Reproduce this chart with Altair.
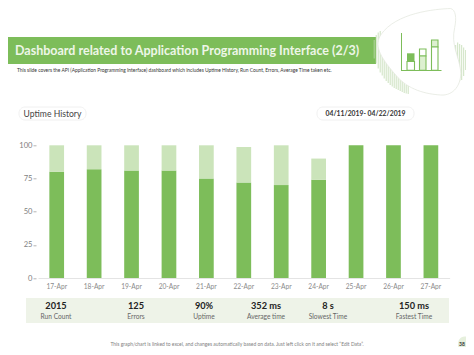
import altair as alt
import pandas as pd

days = ["17-Apr", "18-Apr", "19-Apr", "20-Apr", "21-Apr", "22-Apr", "23-Apr", "24-Apr", "25-Apr", "26-Apr", "27-Apr"]
uptime = [80, 82, 81, 81, 75, 72, 70, 74, 100, 100, 100]
rest = [20, 18, 19, 19, 25, 26.7, 30, 16, 0, 0, 0]
stat_values = ["2015", "125", "90%", "352 ms", "8 s", "150 ms"]
stat_labels = ["Run Count", "Errors", "Uptime", "Average time", "Slowest Time", "Fastest Time"]
stat_x = [56, 136, 204, 266, 328, 414]

GREEN = "#7DBD5A"
LIGHT = "#CBE4BA"
FONT = "Lato"

PL, PT, PW, PH = 38.0, 145.3, 411.6, 132.7
CW, CH = 458, 339


def X(v):
    return alt.value(v - PL)


def Y(v):
    return alt.value(v - PT)


one = alt.Data(values=[{}])


def box(x0, x1, y0, y1, fill, stroke=None, sw=1.0, radius=0):
    kw = {"fill": fill, "cornerRadius": radius}
    if stroke:
        kw.update(stroke=stroke, strokeWidth=sw)
    return alt.Chart(one).mark_rect(**kw).encode(x=X(x0), x2=X(x1), y=Y(y0), y2=Y(y1))


def label(txt, x, y, size, color, weight="normal", align="center"):
    return alt.Chart(one).mark_text(
        font=FONT, fontSize=size, color=color, fontWeight=weight, align=align, baseline="middle"
    ).encode(x=X(x), y=Y(y), text=alt.value(txt))


def shape(path, cx, cy, scale_px, fill=None, stroke=None, sw=1.0):
    kw = {"shape": path, "size": (2 * scale_px) ** 2, "filled": fill is not None, "opacity": 1}
    if fill:
        kw["fill"] = fill
    if stroke:
        kw.update(stroke=stroke, strokeWidth=sw)
    return alt.Chart(one).mark_point(**kw).encode(x=X(cx), y=Y(cy))


blob_path = ("M0.60 -0.83 C0.30 -0.82 -0.50 -0.75 -0.80 -0.30 C-0.92 -0.10 -0.85 0.10 -0.50 0.50 "
             "C-0.25 0.80 0.10 0.88 0.40 0.90 C0.65 0.92 0.82 0.70 0.80 0.42 "
             "C0.76 0.10 0.60 -0.10 0.68 -0.45 C0.72 -0.65 0.70 -0.80 0.60 -0.83 Z")
hatch_path = " ".join(
    f"M{x / 100:.2f} {a / 100:.2f} V{b / 100:.2f}"
    for x, a, b in [
        (-93, -20, 17), (-89, -30, 27), (-85, -35, 37), (-81, -38, 45), (-77, -30, 51),
        (-73, -20, 57), (-69, -10, 62), (-65, 0, 66), (-61, 10, 70), (-57, 20, 73),
        (-53, 30, 76), (-49, 40, 78), (-45, 50, 80), (-41, 55, 82), (-37, 60, 84),
        (-33, 65, 86), (-29, 70, 87), (-25, 70, 88),
        (70, -10, 40), (74, -15, 55), (78, -12, 62), (82, -10, 60), (86, -5, 52), (90, 0, 40),
    ]
)

banner = box(0, 376, 37, 64, GREEN)
hatch = shape(hatch_path, 420.7, 50, 50, stroke="#BFD9B0", sw=0.8)
blob = shape(blob_path, 420.7, 50, 50, fill="#FFFFFF", stroke="#E4E8E0", sw=0.8)

icon = [
    box(407, 414.5, 53.3, 61.5, GREEN),
    box(407, 414.5, 61.5, 70.3, "#FFFFFF", GREEN, 1.1),
    box(419.5, 426, 49, 56, "#FFFFFF", GREEN, 1.1),
    box(419.5, 426, 56, 70.3, "#DDF0D0", GREEN, 1.1),
    box(431.5, 438, 40, 47, "#DDF0D0", GREEN, 1.1),
    box(431.5, 438, 47, 70.3, "#FFFFFF", GREEN, 1.1),
    box(401, 402, 33, 70.5, GREEN),
    box(401, 441.5, 70, 71, GREEN),
]

texts = [
    label("Dashboard related to Application Programming Interface (2/3)", 15, 50.5, 12.5, "#EEF6E8", "bold", "left"),
    label("This slide covers the API (Application Programming Interface) dashboard which includes Uptime History, Run Count, Errors, Average Time taken etc.",
          17, 71.3, 4.9, "#333333", "normal", "left"),
    box(19, 86, 107, 120, "#FFFFFF", "#ECECEC", 0.8, 6),
    label("Uptime History", 52.5, 113.7, 8.6, "#444444"),
    box(317, 414, 107, 120, "#FFFFFF", "#ECECEC", 0.8, 6),
    label("04/11/2019- 04/22/2019", 365.5, 113.5, 6.8, "#333333", "bold"),
    box(26, 449, 298, 323, "#EEF3E8"),
    label("This graph/chart is linked to excel, and changes automatically based on data. Just left click on it and select \u201cEdit Data\u201d.",
          237, 344.5, 4.95, "#7F7F7F"),
    shape("M-1 0 C-1 -0.8 -0.5 -1 0 -1 L1 -1 L1 1 L0 1 C-0.5 1 -1 0.8 -1 0 Z", 466, 344.5, 8, fill="#E6F0DD"),
    label("38", 462, 344, 5, "#333333", "bold"),
]
for v, l, x in zip(stat_values, stat_labels, stat_x):
    texts.append(label(v, x, 305.7, 9.2, "#222222", "bold"))
    texts.append(label(l, x, 316.8, 6.6, "#666666"))

df = pd.DataFrame(
    {"day": days * 2, "series": ["Uptime"] * 11 + ["Rest"] * 11, "value": uptime + rest, "rank": [0] * 11 + [1] * 11}
)

bars = alt.Chart(df).mark_bar().encode(
    x=alt.X(
        "day:N", sort=days, title=None,
        scale=alt.Scale(paddingInner=0.607, paddingOuter=0.3035),
        axis=alt.Axis(labelAngle=0, labelFont=FONT, labelFontSize=6.6, labelColor="#8A8A8A", ticks=False,
                      labelPadding=5, domainColor="#DDDDDD", domainWidth=0.8),
    ),
    y=alt.Y(
        "value:Q", stack="zero", title=None, scale=alt.Scale(domain=[0, 100], nice=False),
        axis=alt.Axis(values=[0, 25, 50, 75, 100], grid=False, domain=False, labelFont=FONT, labelFontSize=7.6,
                      labelColor="#7F7F7F", tickColor="#A0A0A0", tickSize=3, tickWidth=0.8, labelPadding=1, offset=2),
    ),
    color=alt.Color("series:N", legend=None, scale=alt.Scale(domain=["Uptime", "Rest"], range=[GREEN, LIGHT])),
    order=alt.Order("rank:Q"),
)

chart = alt.layer(banner, hatch, blob, *icon, *texts, bars).resolve_scale(
    x="independent", y="independent", color="independent"
).properties(
    width=PW,
    height=PH,
    padding={"left": PL - 8, "top": PT - 8, "right": CW - (PL - 8) - PW, "bottom": CH - (PT - 8) - PH},
    autosize=alt.AutoSizeParams(type="none"),
    background="white",
).configure_view(stroke=None)

chart.save("out.html", embed_options={"renderer": "svg", "actions": False})
